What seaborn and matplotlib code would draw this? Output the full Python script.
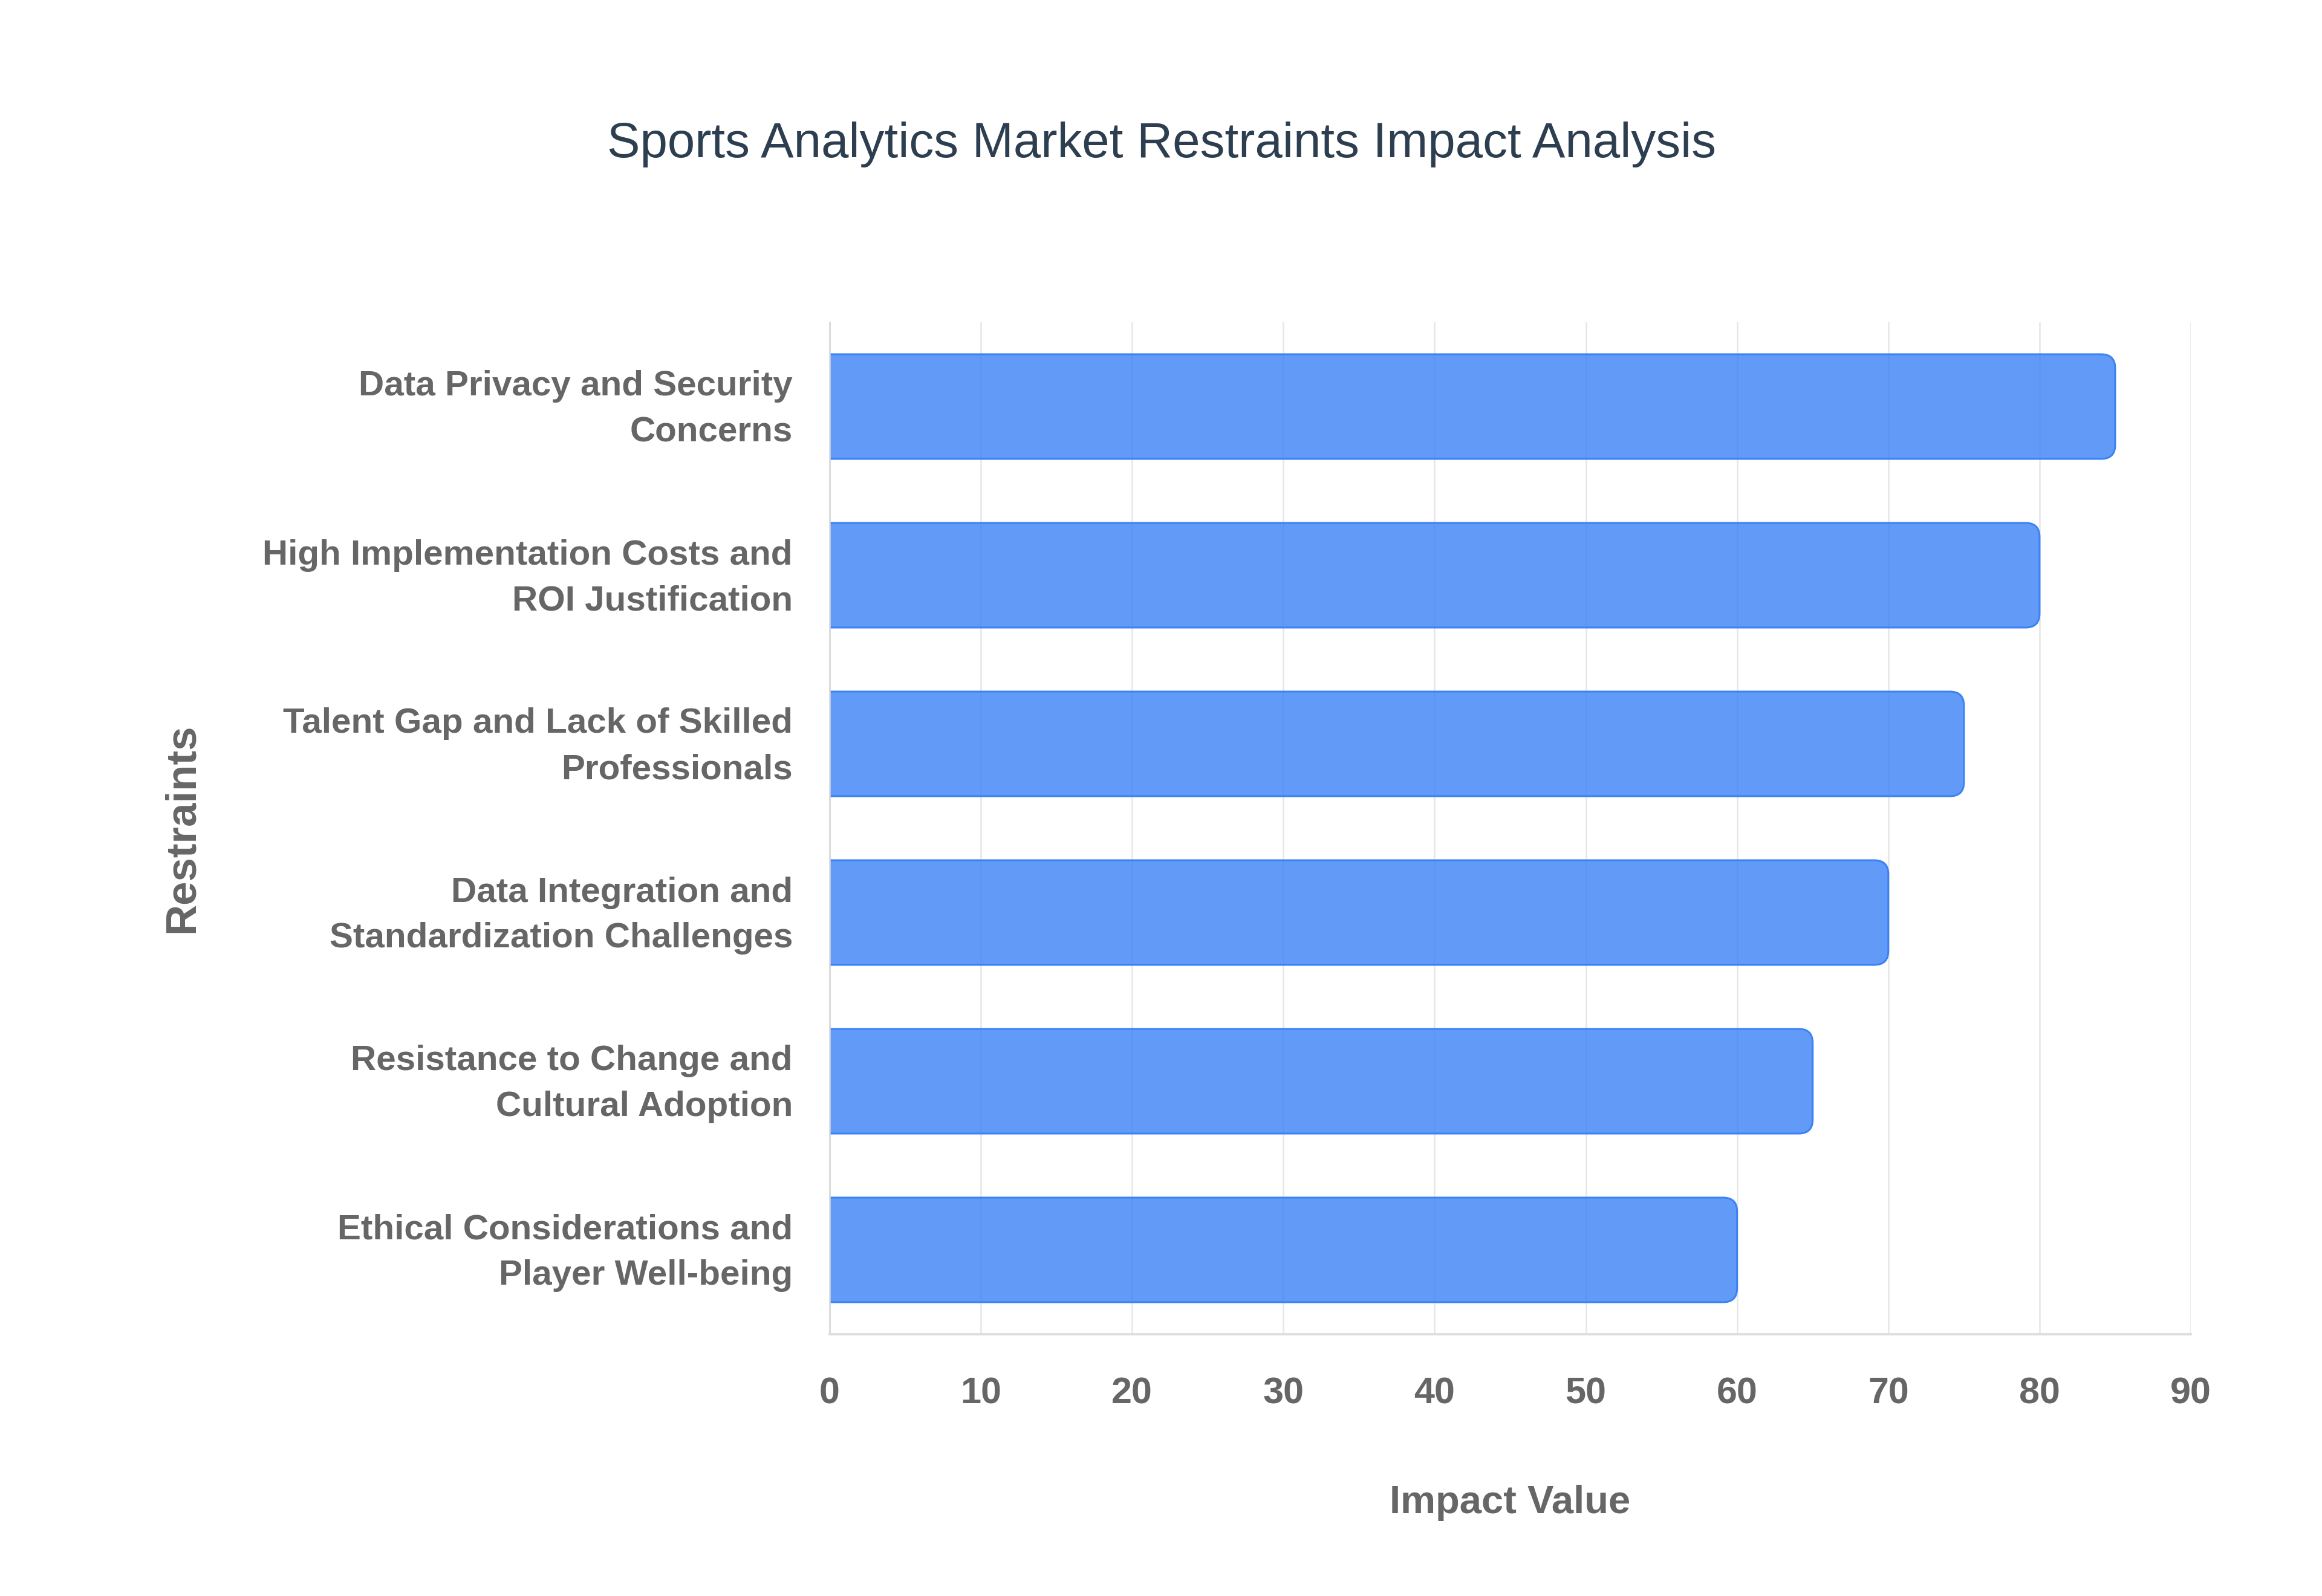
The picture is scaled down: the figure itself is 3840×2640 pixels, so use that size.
import textwrap
import matplotlib
matplotlib.use("Agg")
import matplotlib.pyplot as plt
import matplotlib.transforms as mtransforms
from matplotlib.patches import FancyBboxPatch
import seaborn as sns
import pandas as pd

# ---- data ----
restraints = [
    "Data Privacy and Security Concerns",
    "High Implementation Costs and ROI Justification",
    "Talent Gap and Lack of Skilled Professionals",
    "Data Integration and Standardization Challenges",
    "Resistance to Change and Cultural Adoption",
    "Ethical Considerations and Player Well-being",
]
impact_values = [85, 80, 75, 70, 65, 60]
x_ticks = [0, 10, 20, 30, 40, 50, 60, 70, 80, 90]

title = "Sports Analytics Market Restraints Impact Analysis"
x_label = "Impact Value"
y_label = "Restraints"

# ---- style ----
sns.set_style("whitegrid")
plt.rcParams['font.family'] = ['Liberation Sans', 'DejaVu Sans']

W, H = 3840, 2640
fig = plt.figure(figsize=(W / 100, H / 100), dpi=100)
fig.patch.set_facecolor("white")

ax_left, ax_right, ax_top, ax_bottom = 1372, 3623, 533, 2207
ax = fig.add_axes([ax_left / W, 1 - ax_bottom / H,
                   (ax_right - ax_left) / W, (ax_bottom - ax_top) / H])

df = pd.DataFrame({"Restraint": restraints, "Impact": impact_values})
sns.barplot(data=df, x="Impact", y="Restraint", orient="h", ax=ax,
            width=0.62, color="#3b82f6")

ax.set_xlim(0, 90)
ax.set_ylim(len(restraints) - 0.5, -0.5)
ax.set_xticks(x_ticks)

# rounded right ends
px_per_x = ax.bbox.width / 90.0
px_per_y = ax.bbox.height / len(restraints)
aspect = px_per_x / px_per_y
r_px = 23
fill = (59 / 255, 130 / 255, 246 / 255, 0.8)
for p in list(ax.patches):
    x0, y0, w, h = p.get_x(), p.get_y(), p.get_width(), p.get_height()
    p.remove()
    ext = 3.0
    fb = FancyBboxPatch((x0 - ext, y0), w + ext, h,
                        boxstyle=f"round,pad=0,rounding_size={r_px / px_per_x}",
                        mutation_aspect=aspect,
                        facecolor=fill, edgecolor="#3b82f6",
                        linewidth=2.2, zorder=2)
    ax.add_patch(fb)

# grid / spines
ax.set_axisbelow(True)
ax.grid(axis="x", color="#e6e6e6", linewidth=1.8)
ax.grid(axis="y", visible=False)
for s in ["top", "right"]:
    ax.spines[s].set_visible(False)
ax.spines["left"].set_color("#d6d6d6")
ax.spines["left"].set_linewidth(1.8)
ax.spines["bottom"].set_color("#dedede")
ax.spines["bottom"].set_linewidth(2.8)
ax.set_facecolor("white")

ax.tick_params(axis="x", length=19, width=1.5, color="#e6e6e6", pad=32,
               labelsize=44, labelcolor="#666666")
ax.tick_params(axis="y", length=0, pad=44, labelsize=42, labelcolor="#666666")

ax.set_yticks(range(len(restraints)))
ax.set_yticklabels([textwrap.fill(r, 30) for r in restraints],
                   linespacing=1.52)
offset = mtransforms.ScaledTranslation(0, 12 / 100, fig.dpi_scale_trans)
for lbl in ax.get_yticklabels():
    lbl.set_transform(lbl.get_transform() + offset)
for lbl in ax.get_xticklabels() + ax.get_yticklabels():
    lbl.set_fontweight("bold")

ax_h = ax_bottom - ax_top
ax_w = ax_right - ax_left
ax.set_xlabel(x_label, fontsize=47, fontweight="bold", color="#666666", va="center")
ax.xaxis.set_label_coords(0.5, -(2486 - ax_bottom) / ax_h)
ax.set_ylabel(y_label, fontsize=51, fontweight="bold", color="#666666", va="center")
ax.yaxis.set_label_coords(-(ax_left - 302) / ax_w, 0.5)

fig.text(0.5002, 1 - 260 / H, title, ha="center", va="baseline",
         fontsize=58.8, color="#2c3e50")

fig.savefig("out.png", dpi=100, facecolor="white")
